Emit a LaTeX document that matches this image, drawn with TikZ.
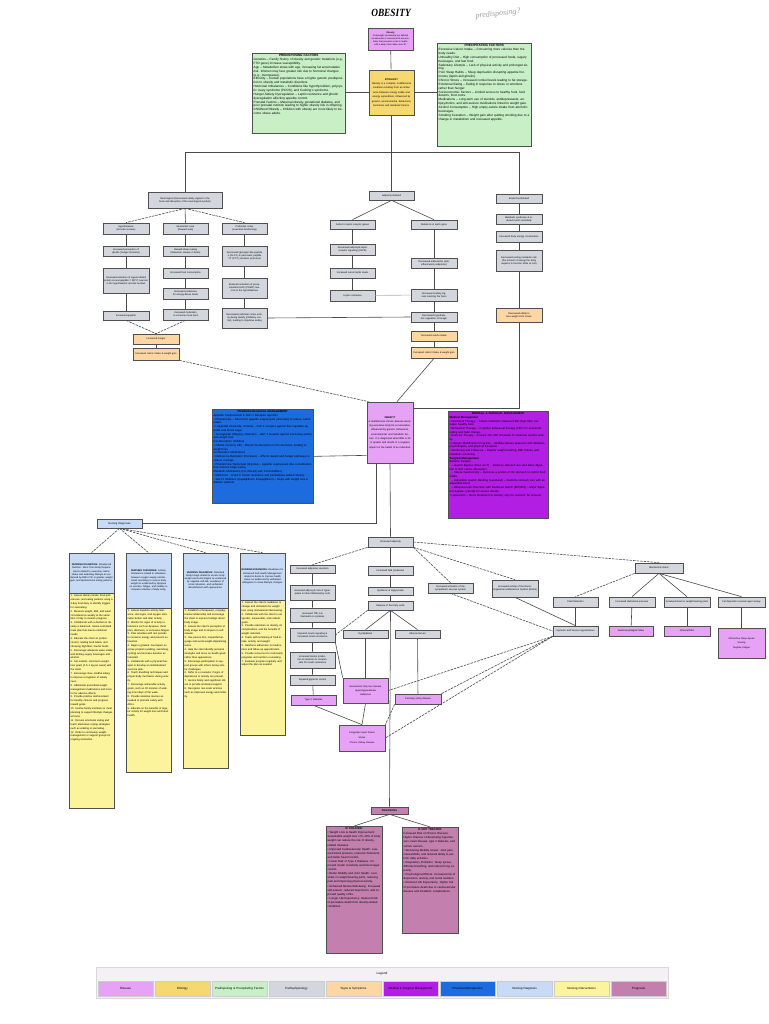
\documentclass[tikz,border=0pt]{standalone}
\usepackage{fontspec}
\setmainfont{Liberation Sans}
\newfontfamily\handfont{Liberation Serif}
\usetikzlibrary{calc}
\definecolor{cDis}{HTML}{E6A2F4}
\definecolor{cEtio}{HTML}{F6D870}
\definecolor{cPre}{HTML}{C8EFC6}
\definecolor{cPat}{HTML}{D3D7DD}
\definecolor{cSig}{HTML}{FCD7A4}
\definecolor{cMed}{HTML}{B21EE4}
\definecolor{cPha}{HTML}{1C6CE0}
\definecolor{cNdx}{HTML}{C8DBF6}
\definecolor{cNin}{HTML}{FBF49C}
\definecolor{cPro}{HTML}{C37FAE}
\definecolor{cBor}{HTML}{505050}
\definecolor{cLn}{HTML}{4A4A4A}
\definecolor{cLeg}{HTML}{F4F1F5}
\newcommand\fs[2]{\fontsize{#1}{#2}\selectfont}
\newcommand\bx[7]{%
 \pgfmathsetmacro\bxw{#5-#3}\pgfmathsetmacro\bxh{#6-#4}%
 \pgfmathsetmacro\bxt{#5-#3-2}%
 \pgfmathsetmacro\bxx{(#3+#5)/2}\pgfmathsetmacro\bxy{(#4+#6)/2}%
 \node[bb,#2,minimum width=\bxw pt,minimum height=\bxh pt,text width=\bxt pt] (#1) at (\bxx,\bxy) {#7};}
\newcommand\tb[8]{%
 \pgfmathsetmacro\bxw{#5-#3}\pgfmathsetmacro\bxh{#6-#4}%
 \pgfmathsetmacro\bxt{#5-#3-3}%
 \node[bb,#2,minimum width=\bxw pt,minimum height=\bxh pt,inner sep=0pt,anchor=north west] (#1) at (#3,#4) {};%
 \node[anchor=north west,text width=\bxt pt,align=left,inner sep=1.5pt,font=#8] (#1T) at (#1.north west) {#7};}
\tikzset{
 bb/.style={draw=cBor,line width=0.7pt,inner sep=1pt,align=center,font=\fs{2.4}{2.9}},
 pat/.style={fill=cPat},
 sig/.style={fill=cSig},
 dis/.style={fill=cDis},
 etio/.style={fill=cEtio},
 pre/.style={fill=cPre},
 med/.style={fill=cMed},
 pha/.style={fill=cPha},
 ndx/.style={fill=cNdx},
 nin/.style={fill=cNin},
 pro/.style={fill=cPro},
 ln/.style={draw=cLn,line width=0.6pt},
 dln/.style={draw=cLn,line width=0.6pt,dash pattern=on 2.5pt off 1pt},
 hand/.style={text=gray!75,font=\handfont\itshape\fs{8}{8}},
}
\begin{document}
\begin{tikzpicture}[x=1pt,y=-1pt]
\useasboundingbox[fill=white] (0,0) rectangle (768,1024);

% ---------- title ----------
\node[font=\handfont\itshape\bfseries\fs{11}{11},xscale=0.85] (title) at (391,13) {OBESITY};
\node[hand,rotate=6] (hw1) at (498,14) {predisposing?};
\draw[gray!65,line width=0.4pt] (287,66) ellipse (31 and 11);
\draw[gray!65,line width=0.4pt] (487,56) ellipse (28 and 10);

% ---------- top ----------
\bx{dis1}{dis,font=\fs{2.2}{2.9}}{368}{28}{413}{50}{\textbf{Obesity}\\ Overweight and obesity are defined as abnormal or excessive fat accumulation that presents a risk to health, with a body mass index over 30.}
\bx{etio}{etio,font=\fs{2.5}{4.4}}{369}{70}{414}{115}{\textbf{ETIOLOGY}\\ Obesity is a complex, multifactorial condition resulting from an imbalance between energy intake and energy expenditure, influenced by genetic, environmental, behavioral, hormonal, and metabolic factors.}

\tb{pre1}{pre}{252}{53}{345}{133}{\centerline{\textbf{PREDISPOSING FACTORS}}
Genetics – Family history of obesity and genetic mutations (e.g., FTO gene) increase susceptibility.\\
Age – Metabolism slows with age, increasing fat accumulation risk. Women may face greater risk due to hormonal changes (e.g., menopause).\\
Ethnicity – Certain populations have a higher genetic predisposition to obesity and metabolic disorders.\\
Hormonal Imbalances – Conditions like hypothyroidism, polycystic ovary syndrome (PCOS), and Cushing's syndrome.\\
Hunger-Satiety Dysregulation – Leptin resistance and ghrelin dysregulation affecting appetite control.\\
Prenatal Factors – Maternal obesity, gestational diabetes, and poor prenatal nutrition leading to higher obesity risk in offspring.\\
Childhood Obesity – Children with obesity are more likely to become obese adults.}{\fs{3.1}{3.85}}

\tb{pre2}{pre}{437}{43}{531}{146}{\centerline{\textbf{PRECIPITATING FACTORS}}
Excessive Caloric Intake – Consuming more calories than the body needs.\\
Unhealthy Diet – High consumption of processed foods, sugary beverages, and fast food.\\
Sedentary Lifestyle – Lack of physical activity and prolonged sitting.\\
Poor Sleep Habits – Sleep deprivation disrupting appetite hormones (leptin and ghrelin).\\
Chronic Stress – Increased cortisol levels leading to fat storage.\\
Emotional Eating – Eating in response to stress or emotions rather than hunger.\\
Socioeconomic Factors – Limited access to healthy food, food deserts, food costs.\\
Medications – Long-term use of steroids, antidepressants, antipsychotics, and anti-seizure medications linked to weight gain.\\
Alcohol Consumption – High empty-calorie intake from alcoholic beverages.\\
Smoking Cessation – Weight gain after quitting smoking due to a change in metabolism and increased appetite.}{\fs{3.1}{3.85}}

\draw[ln] (dis1) -- (etio);
\draw[ln] (etio.west) -- (etio.west -| pre1.east);
\draw[ln] (etio.east) -- (etio.east -| pre2.west);
\coordinate (hub) at (391.5,152);

% ---------- neurological ----------
\bx{neu}{pat}{148}{192}{222}{208}{Neurological (Decreased satiety signals to the brain and disruption of the neurological system)}
\bx{hyp}{pat}{103}{223}{149}{234}{Hypothalamus\\(Arcuate nucleus)}
\bx{mes}{pat}{163}{223}{208}{234}{Mesolimbic area\\(Reward area)}
\bx{pfc}{pat}{222}{223}{267}{234}{Prefrontal cortex\\(executive functioning)}
\bx{hyp1}{pat}{103}{246}{149}{256}{Increased perception of ghrelin (hunger hormone)}
\bx{hyp2}{pat}{103}{268}{149}{293}{Increased activation of agouti-related protein \& neuropeptide Y (NPY) neurons in the hypothalamic arcuate nucleus}
\bx{hyp3}{pat}{103}{311}{149}{320}{Increased appetite}
\bx{mes1}{pat}{163}{246}{208}{256}{Reward-driven eating (dopamine release in brain)}
\bx{mes2}{pat}{163}{268}{208}{278}{Increased food consumption}
\bx{mes3}{pat}{163}{288}{208}{299}{Increased preference for energy-dense foods}
\bx{mes4}{pat}{163}{309}{208}{320}{Increased motivation to consume more food}
\bx{pfc1}{pat}{222}{246}{267}{266}{Decreased glucagon-like peptide 1 (GLP-1) \& pancreatic peptide YY (PYY) secretion post-meal}
\bx{pfc2}{pat}{222}{278}{267}{298}{Reduced activation of proopiomelanocortin (POMC) neurons in the hypothalamus}
\bx{pfc3}{pat}{222}{308}{267}{328}{Decreased prefrontal cortex activity during satiety (inhibitory control), leading to impulsive eating}
\bx{hung1}{sig}{133}{334}{179}{344}{Increased hunger}
\bx{hung2}{sig}{133}{348}{179}{360}{Increased caloric intake \& weight gain}

% ---------- adiposity ----------
\bx{adp}{pat}{369}{191}{414}{200}{Adiposity Related}
\bx{lep}{pat}{330}{220}{375}{229}{Defect in leptin receptor genes}
\bx{lep1}{pat}{330}{244}{375}{255}{Decreased adipocyte-leptin receptor signaling (LEPR)}
\bx{lep2}{pat}{330}{268}{375}{278}{Increased serum leptin levels}
\bx{lep3}{pat}{330}{290}{375}{301}{Leptin resistance}
\bx{gen}{pat}{411}{220}{457}{229}{Mutations in leptin gene}
\bx{gen1}{pat}{411}{258}{457}{268}{Decreased adiponectin (anti-inflammatory adipokine)}
\bx{gen2}{pat}{411}{289}{457}{301}{Decreased satiety signals reaching the brain}
\bx{gen3}{pat}{411}{312}{457}{322}{Decreased hypothalamic regulation of hunger}
\bx{gen4}{sig}{411}{331}{457}{341}{Increased calorie intake}
\bx{gen5}{sig}{411}{347}{457}{358}{Increased caloric intake \& weight gain}

% ---------- endocrine ----------
\bx{endo}{pat}{496}{194}{542}{203}{Endocrine-Related}
\bx{endo1}{pat}{496}{214}{542}{224}{Metabolic syndrome \& reduced insulin sensitivity}
\bx{endo2}{pat}{496}{231}{542}{242}{Increased body energy conservation}
\bx{endo3}{pat}{496}{250}{542}{271}{Decreased resting metabolic rate (the amount of energy the body requires to function while at rest)}
\bx{endo4}{sig}{496}{308}{542}{322}{Decreased ability to lose weight \& fat stores}

% ---------- obesity / management ----------
\bx{obs}{dis,font=\fs{2.5}{4.3}}{367}{402}{413}{463}{\textbf{OBESITY}\\ A multifactorial chronic disease involving excessive body fat accumulation, influenced by genetic, behavioral, environmental, and metabolic factors. It is diagnosed when BMI is 30 or greater and results in a negative impact on the health of an individual.}

\tb{pha}{pha}{212}{409}{313}{503}{\centerline{\textbf{PHARMACOLOGICAL MANAGEMENT}}
Appetite Suppressants \& GLP-1 Receptor Agonists\\
• Phentermine – Short-term appetite suppressant (stimulant) to reduce caloric intake.\\
• Liraglutide (Saxenda, Victoza) – GLP-1 receptor agonist that regulates appetite and blood sugar.\\
• Semaglutide (Wegovy, Ozempic) – GLP-1 receptor agonist promoting satiety and weight loss.\\
Fat Absorption Inhibitors\\
• Orlistat (Xenical, Alli) – Blocks fat absorption in the intestines, leading to weight loss.\\
Combination Medications\\
• Naltrexone-Bupropion (Contrave) – Affects reward and hunger pathways to reduce cravings.\\
• Phentermine-Topiramate (Qsymia) – Appetite suppressant plus a medication that reduces binge eating.\\
Metabolic Modulators (For Obesity with Comorbidities)\\
• Metformin – Used in insulin resistance and prediabetes-related obesity.\\
• SGLT2 Inhibitors (Dapagliflozin, Empagliflozin) – Helps with weight loss in diabetic patients.}{\fs{2.8}{3.75}}

\tb{msm}{med}{448}{411}{548}{518}{\centerline{\textbf{MEDICAL \& SURGICAL MANAGEMENT}}
\textbf{Medical Management}\\
• Nutritional Therapy – Calorie restriction, balanced diet (high fiber, low sugar, healthy fats).\\
• Behavioral Therapy – Cognitive behavioral therapy (CBT) for emotional eating and habit change.\\
• Exercise Therapy – At least 150–300 min/week of moderate aerobic activity.\\
• Lifestyle Modification Programs – Multidisciplinary approach with dietitians, psychologists, and physical therapists.\\
• Monitoring and Follow-up – Regular weight tracking, BMI checks, and metabolic screening.\\
\textbf{Surgical Management}\\
Bariatric Surgery\\
\hspace*{2pt}– Gastric Bypass (Roux-en-Y) – Reduces stomach size and alters digestion to limit calorie absorption.\\
\hspace*{2pt}– Sleeve Gastrectomy – Removes a portion of the stomach to restrict food intake.\\
\hspace*{2pt}– Adjustable Gastric Banding (Lap-Band) – Restricts stomach size with an adjustable band.\\
\hspace*{2pt}– Biliopancreatic Diversion with Duodenal Switch (BPD/DS) – Major digestive bypass, typically for severe obesity.\\
• Liposuction – Not a treatment for obesity; only for cosmetic fat removal.}{\fs{2.8}{3.7}}

% ---------- nursing ----------
\bx{nmed}{ndx,font=\fs{2.6}{3.1}}{97}{519}{142}{528}{Nursing Diagnoses}
\bx{n1h}{ndx,font=\fs{2.4}{3.1}}{69}{553}{114}{593}{\textbf{NURSING DIAGNOSIS:} Imbalanced Nutrition: More Than Body Requirements related to excessive caloric intake and sedentary lifestyle as evidenced by BMI of 30 or greater, weight gain, and dysfunctional eating patterns.}
\bx{n2h}{ndx,font=\fs{2.4}{3.1}}{126}{553}{171}{608}{\textbf{NURSING DIAGNOSIS:} Activity Intolerance related to imbalance between oxygen supply and demand secondary to excess body weight as evidenced by dyspnea on exertion, fatigue, and inability to complete activities of daily living.}
\bx{n3h}{ndx,font=\fs{2.4}{3.1}}{183}{553}{228}{608}{\textbf{NURSING DIAGNOSIS:} Disturbed Body Image related to excess body weight and social stigma as evidenced by negative self-talk, avoidance of social situations, and verbalized dissatisfaction with appearance.}
\bx{n4h}{ndx,font=\fs{2.4}{3.1}}{240}{553}{285}{600}{\textbf{NURSING DIAGNOSIS:} Readiness for Enhanced Self-Health Management related to desire to improve health status as evidenced by verbalized willingness to make lifestyle changes.}

\tb{n1i}{nin}{69}{593}{114}{808}{1. Assess dietary intake, food preferences, and eating patterns using a 3-day food diary to identify triggers for overeating.\\
2. Measure weight, BMI, and waist circumference weekly at the same time of day to monitor progress.\\
3. Collaborate with a dietitian to develop a balanced, calorie-controlled meal plan that meets nutritional needs.\\
4. Educate the client on portion control, reading food labels, and choosing high-fiber, low-fat foods.\\
5. Encourage adequate water intake and limiting sugary beverages and alcohol.\\
6. Set realistic, short-term weight-loss goals (0.5–1 kg per week) with the client.\\
7. Encourage slow, mindful eating to improve recognition of satiety cues.\\
8. Administer prescribed weight-management medications and monitor for adverse effects.\\
9. Provide positive reinforcement for healthy choices and progress toward goals.\\
10. Involve family members in meal planning to support lifestyle changes at home.\\
11. Discuss emotional eating and teach alternative coping strategies such as walking or journaling.\\
12. Refer to community weight-management or support groups for ongoing motivation.}{\fs{2.55}{3.9}}

\tb{n2i}{nin}{126}{608}{171}{772}{1. Assess baseline activity tolerance, vital signs, and oxygen saturation before and after activity.\\
2. Monitor for signs of activity intolerance such as dyspnea, chest pain, dizziness, or excessive fatigue.\\
3. Plan activities with rest periods to conserve energy and prevent exhaustion.\\
4. Begin a gradual, low-impact exercise program (walking, swimming, cycling) and increase duration as tolerated.\\
5. Collaborate with a physical therapist to develop an individualized exercise plan.\\
6. Teach breathing techniques and proper body mechanics during activity.\\
7. Encourage achievable activity goals, such as 30 minutes of walking most days of the week.\\
8. Provide assistive devices as needed to promote safety with ADLs.\\
9. Educate on the benefits of regular activity for weight loss and heart health.}{\fs{2.55}{3.9}}

\tb{n3i}{nin}{183}{608}{228}{768}{1. Establish a therapeutic, nonjudgmental relationship and encourage the client to express feelings about body image.\\
2. Assess the client's perception of body image and its impact on self-esteem.\\
3. Use person-first, respectful language and avoid weight-stigmatizing terms.\\
4. Help the client identify personal strengths and focus on health goals rather than appearance.\\
5. Encourage participation in support groups with others facing similar challenges.\\
6. Refer to a counselor if signs of depression or anxiety are present.\\
7. Involve family and significant others to provide emotional support.\\
8. Recognize non-scale victories such as improved energy and mobility.}{\fs{2.55}{3.9}}

\tb{n4i}{nin}{240}{600}{285}{735}{1. Assess the client's readiness to change and motivation for weight loss using motivational interviewing.\\
2. Collaborate with the client to set specific, measurable, and realistic goals.\\
3. Provide education on obesity, its complications, and the benefits of weight reduction.\\
4. Teach self-monitoring of food intake, activity, and weight.\\
5. Reinforce adherence to medications and follow-up appointments.\\
6. Provide resources for community programs and nutrition counseling.\\
7. Evaluate progress regularly and adjust the plan as needed.}{\fs{2.55}{3.9}}

% ---------- signs / complications ----------
\bx{ia}{pat}{368}{537}{413}{547}{Increased adiposity}
\bx{s1}{pat}{290}{565}{335}{573}{Increased adipokine secretion}
\bx{s2}{pat}{290}{585}{335}{600}{Increased adipocyte size \& hyperplasia \& other inflammatory cells}
\bx{s3}{pat}{290}{608}{335}{622}{Increased TNF-α \& interleukin-6 cytokines}
\bx{s4}{pat}{290}{628}{335}{642}{Impaired insulin signaling \& increased insulin resistance}
\bx{s5}{pat}{290}{652}{335}{668}{Increased insulin production \& secretion to compensate for insulin resistance}
\bx{s6}{pat}{290}{675}{335}{685}{Impaired glycemic control}
\bx{t2d}{dis}{291}{695}{336}{705}{Type 2 Diabetes}
\bx{lp}{pat}{368}{566}{413}{575}{Increased lipid production}
\bx{tg}{pat}{368}{587}{413}{595}{Synthesis of triglycerides}
\bx{ffa}{pat}{368}{601}{413}{610}{Release of free fatty acids}
\bx{dys}{pat}{343}{630}{388}{638}{Dyslipidemia}
\bx{ath}{pat}{395}{630}{440}{638}{Atherosclerosis}
\bx{nafld}{dis,font=\fs{2.3}{4.2}}{343}{678}{388}{703}{Nonalcoholic fatty liver disease\\ Hypertriglyceridemia\\ Gallstones}
\bx{cad}{dis}{395}{694}{441}{704}{Coronary artery disease}
\bx{chf}{dis,font=\fs{2.3}{5}}{339}{725}{385}{751}{Congestive Heart Failure\\ Stroke\\ Chronic Kidney Disease}
\bx{sns}{pat}{428}{583}{473}{593}{Increased activation of the sympathetic nervous system}
\bx{raas}{pat}{492}{580}{538}{597}{Increased activity of the Renin-Angiotensin-Aldosterone System (RAAS)}
\bx{mech}{pat}{635}{563}{683}{573}{Mechanical stress}
\bx{stig}{pat}{553}{597}{598}{607}{Fluid Retention}
\bx{svh}{pat}{553}{626}{598}{636}{Systemic and Venous Hypertension}
\bx{j1}{pat}{609}{597}{655}{607}{Increased abdominal pressure}
\bx{j2}{pat}{664}{597}{710}{607}{Increased load on weight-bearing joints}
\bx{j3}{pat}{718}{597}{765}{607}{Fat deposition around upper airway}
\bx{j1p}{dis}{609}{626}{653}{636}{Gastroesophageal reflux}
\bx{j2p}{dis}{664}{626}{710}{636}{Osteoarthritis}
\bx{j3p}{dis,font=\fs{2.3}{4.4}}{718}{628}{765}{658}{Obstructive Sleep Apnea\\ Snoring\\ Daytime Fatigue}

% ---------- prognosis ----------
\bx{prog}{pro,font=\fs{2.5}{3}}{371}{807}{408}{814}{\textbf{PROGNOSIS}}
\tb{treat}{pro}{326}{826}{382}{953}{\centerline{\textbf{IF TREATED:}}
• Weight Loss \& Health Improvement: Sustainable weight loss of 5–10\% of body weight can reduce the risk of obesity-related diseases.\\
• Improved Cardiovascular Health: Lowered blood pressure, reduced cholesterol, and better heart function.\\
• Lower Risk of Type 2 Diabetes: Improved insulin sensitivity and blood sugar control.\\
• Better Mobility and Joint Health: Less strain on weight-bearing joints, reducing pain and improving physical activity.\\
• Enhanced Mental Well-being: Increased self-esteem, reduced depression, and improved quality of life.\\
• Longer Life Expectancy: Reduced risk of premature death from obesity-related conditions.}{\fs{2.8}{4.1}}
\tb{ntreat}{pro}{402}{827}{458}{933}{\centerline{\textbf{IF NOT TREATED:}}
Increased Risk of Chronic Illnesses: Higher chances of developing hypertension, heart disease, type 2 diabetes, and certain cancers.\\
• Worsening Mobility Issues: Joint pain, osteoarthritis, and reduced ability to perform daily activities.\\
• Respiratory Problems: Sleep apnea, difficulty breathing, and reduced lung capacity.\\
• Psychological Effects: Increased risk of depression, anxiety, and social isolation.\\
• Reduced Life Expectancy: Higher risk of premature death due to cardiovascular disease and metabolic complications.}{\fs{2.8}{4.1}}

% ---------- connectors ----------
\draw[ln] (etio.south) -- (hub);
\draw[ln] (hub) -- (hub -| neu.north) -- (neu.north);
\draw[ln] (hub) -- (hub -| endo.north) -- (endo.north);
\draw[ln] (hub) -- (adp.north);
\draw[dln] (neu.south) -- (hyp.north);
\draw[ln] (neu.south) -- (mes.north);
\draw[dln] (neu.south) -- (pfc.north);
\draw[ln] (hyp) -- (hyp1) -- (hyp2) -- (hyp3);
\draw[ln] (mes) -- (mes1) -- (mes2) -- (mes3) -- (mes4);
\draw[ln] (pfc) -- (pfc1) -- (pfc2) -- (pfc3);
\draw[dln] (hyp3.south) -- (hung1.north);
\draw[dln] (mes4.south) -- (hung1.north);
\draw[ln] (hung1) -- (hung2);
\draw[dln] (hung2.south east) -- ($(obs.north west)+(2,0)$);
\draw[ln] (pfc3.east) -- (gen3.west);
\draw[ln] (adp.south) -- (lep.north);
\draw[ln] (adp.south) -- (gen.north);
\draw[ln] (lep) -- (lep1) -- (lep2) -- (lep3);
\draw[ln,draw=gray!60] (lep3) -- (gen2);
\draw[ln] (gen) -- (gen1) -- (gen2) -- (gen3) -- (gen4) -- (gen5);
\draw[ln] (gen5.south) -- ($(obs.north)+(7,0)$);
\draw[ln] (endo) -- (endo1) -- (endo2) -- (endo3) -- (endo4);
\coordinate (ec) at (519,408);
\draw[ln] (endo4.south) -- (ec) -- (ec -| obs.east);
\draw[ln] ($(obs.south west)+(0,-8)$) -- (pha.east);
\draw[ln] ($(obs.south east)+(0,-6)$) -- ($(obs.south east)+(0,-6)$ -| msm.west);
\draw[ln] ($(obs.south)+(-14,0)$) |- (nmed.east);
\draw[ln] (obs.south) -- (ia.north);
\draw[dln] (nmed.south) -- (n1h.north);
\draw[dln] (nmed.south) -- (n2h.north);
\draw[dln] (nmed.south) -- (n3h.north);
\draw[dln] (nmed.south) -- (n4h.north);
\draw[dln] (ia.south west) -- (s1.north);
\draw[ln] (ia) -- (lp) -- (tg) -- (ffa);
\draw[dln] (ia.south east) -- (sns.north);
\draw[dln] (ia.south east) -- (raas.north);
\draw[dln] (ia.east) -- (mech.north);
\draw[ln] (s1) -- (s2) -- (s3) -- (s4) -- (s5) -- (s6) -- (t2d);
\draw[ln] (ffa.south) -- (dys.north);
\draw[ln] (ffa.south) -- (ath.north);
\draw[dln] (ffa.south west) -- (s4.east);
\draw[ln] (dys) -- (nafld);
\draw[ln] (ath) -- (cad);
\draw[ln] (s4.south east) -- (nafld.north west);
\draw[ln] (t2d.south) -- (chf.north);
\draw[ln] (nafld.south) -- (chf.north);
\draw[dln] (cad.south west) -- (chf.north east);
\draw[dln] (mech.south west) -- (stig.north);
\draw[ln] (mech.south) -- (j1.north);
\draw[ln] (mech.south) -- (j2.north);
\draw[ln] (mech.south) -- (j3.north);
\draw[ln] (j1) -- (j1p);
\draw[ln] (j2) -- (j2p);
\draw[ln] (j3) -- (j3p);
\draw[ln] (stig) -- (svh);
\draw[ln] (raas.south) -- (svh.north);
\draw[dln] (sns.south) -- (svh.west);
\draw[dln] (svh.south west) -- (cad.north east);
\draw[dln] (svh.south west) -- (chf.east);
\draw[dln] (svh.south west) -- (nafld.east);
\draw[ln] (ffa.south) -- (prog.north);
\draw[ln] (prog.south) -- (treat.north);
\draw[ln] (prog.south) -- (ntreat.north);

% ---------- legend ----------
\node[draw=gray!30,fill=cLeg,minimum width=572pt,minimum height=31pt,anchor=north west,inner sep=0pt] (legbox) at (96,967) {};
\node[font=\fs{3.2}{3.6}] (legt) at (382,974) {Legend};
\bx{lg1}{dis,font=\fs{3}{3.6},draw=gray!40}{98}{981}{153}{996}{Disease}
\bx{lg2}{etio,font=\fs{3}{3.6},draw=gray!40}{155}{981}{210}{996}{Etiology}
\bx{lg3}{pre,font=\fs{3}{3.6},draw=gray!40}{212}{981}{267}{996}{Predisposing \& Precipitating Factors}
\bx{lg4}{pat,font=\fs{3}{3.6},draw=gray!40}{269}{981}{324}{996}{Pathophysiology}
\bx{lg5}{sig,font=\fs{3}{3.6},draw=gray!40}{326}{981}{381}{996}{Signs \& Symptoms}
\bx{lg6}{med,font=\fs{3}{3.6},draw=gray!40}{383}{981}{438}{996}{Medical \& Surgical Management}
\bx{lg7}{pha,font=\fs{3}{3.6},draw=gray!40}{440}{981}{495}{996}{Pharmacotherapeutics}
\bx{lg8}{ndx,font=\fs{3}{3.6},draw=gray!40}{497}{981}{552}{996}{Nursing Diagnosis}
\bx{lg9}{nin,font=\fs{3}{3.6},draw=gray!40}{554}{981}{609}{996}{Nursing Interventions}
\bx{lg10}{pro,font=\fs{3}{3.6},draw=gray!40}{611}{981}{666}{996}{Prognosis}
\end{tikzpicture}
\end{document}
